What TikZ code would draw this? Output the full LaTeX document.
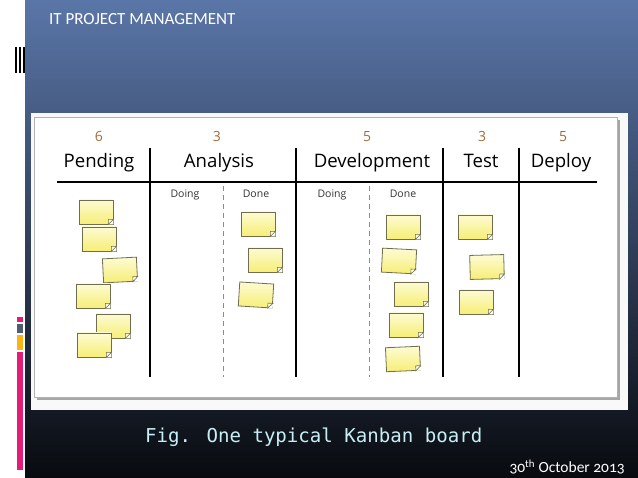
\documentclass[tikz,border=0pt]{standalone}
\usepackage{fontspec}
\setmainfont{Carlito}
\newfontfamily\handfont{Open Sans}
\newfontfamily\capfont{DejaVu Sans Mono}
\newfontfamily\datefont[Numbers=OldStyle]{Carlito}
\usetikzlibrary{calc}

\definecolor{slidetop}{RGB}{90,118,168}
\definecolor{slidemid}{RGB}{44,60,94}
\definecolor{slidebot}{RGB}{8,10,14}
\definecolor{notetop}{RGB}{247,238,118}
\definecolor{notebot}{RGB}{253,251,212}
\definecolor{noteedge}{RGB}{112,110,78}
\definecolor{countbrown}{RGB}{165,108,55}
\definecolor{capcyan}{RGB}{200,238,245}
\definecolor{barpink}{RGB}{228,28,120}
\definecolor{bargray}{RGB}{82,92,112}
\definecolor{barorange}{RGB}{250,180,20}

\begin{document}
\begin{tikzpicture}[x=1pt,y=-1pt]
	\tikzstyle{note}=[draw=noteedge, line width=0.8pt, top color=notebot, bottom color=notetop, minimum width=34pt, minimum height=24pt, inner sep=0pt]
	\tikzstyle{head}=[anchor=base, inner sep=0pt, font=\handfont\fontsize{18.6}{21}\selectfont]
	\tikzstyle{count}=[anchor=base, inner sep=0pt, text=countbrown, font=\handfont\fontsize{14}{16}\selectfont]
	\tikzstyle{sub}=[anchor=base, inner sep=0pt, text=black!80, font=\handfont\fontsize{10.5}{12}\selectfont]
	\tikzstyle{boardline}=[line width=1.8pt, black]
	\tikzstyle{splitline}=[line width=0.7pt, black!45, dash pattern=on 5pt off 4pt]
	% slide background
	\useasboundingbox (0,0) rectangle (638,478);
	\fill[white] (0,0) rectangle (638,478);
	\shade[top color=slidetop, middle color=slidemid, bottom color=slidebot] (25,0) rectangle (638,478);
	% left marks
	\fill[black] (15,47) rectangle (17,73);
	\fill[black] (19,47) rectangle (21,73);
	\fill[black] (23,47) rectangle (25,73);
	\fill[barpink] (17,317) rectangle (23,322);
	\fill[bargray] (17,324) rectangle (23,333);
	\fill[barorange] (17,335) rectangle (23,350);
	\fill[barpink] (17,352) rectangle (23,470);
	\node[anchor=base west, inner sep=0pt, text=white, font=\fontsize{17}{20}\selectfont] (title) at (49,25) {IT PROJECT MANAGEMENT};
	% board
	\fill[white!95!gray] (31,113) rectangle (628,410);
	\fill[black!35] (37,120) rectangle (620,400);
	\filldraw[fill=white, draw=black!30] (34,117) rectangle (617,397);
	\node[count] (cpend) at (99,142) {6};
	\node[count] (cana) at (217,142) {3};
	\node[count] (cdev) at (367,142) {5};
	\node[count] (ctest) at (482,142) {3};
	\node[count] (cdep) at (563,142) {5};
	\node[head] (hpend) at (99,168) {Pending};
	\node[head] (hana) at (219,168) {Analysis};
	\node[head] (hdev) at (372,168) {Development};
	\node[head] (htest) at (481,168) {Test};
	\node[head] (hdep) at (561,168) {Deploy};
	\node[sub] (sana1) at (185,198) {Doing};
	\node[sub] (sana2) at (256,198) {Done};
	\node[sub] (sdev1) at (332,198) {Doing};
	\node[sub] (sdev2) at (403,198) {Done};
	\draw[boardline] (57,182) -- (597,182);
	\draw[boardline] (150,148) -- (150,377);
	\draw[boardline] (296,148) -- (296,377);
	\draw[boardline] (443,148) -- (443,377);
	\draw[boardline] (519,148) -- (519,377);
	\draw[splitline] (223,186) -- (223,377);
	\draw[splitline] (369,186) -- (369,377);
	% notes
	\node[note] (p1) at (96,212) {};
	\node[note] (p2) at (99,239) {};
	\node[note, rotate=3] (p3) at (120,270) {};
	\node[note] (p4) at (93,296) {};
	\node[note] (p5) at (113,326) {};
	\node[note] (p6) at (94,345) {};
	\node[note] (a1) at (258,224) {};
	\node[note] (a2) at (265,260) {};
	\node[note, rotate=-3.5] (a3) at (256,295) {};
	\node[note] (d1) at (403,227) {};
	\node[note, rotate=-3] (d2) at (399,261) {};
	\node[note] (d3) at (411,294) {};
	\node[note] (d4) at (406,325) {};
	\node[note, rotate=2.5] (d5) at (403,359) {};
	\node[note] (t1) at (475,227) {};
	\node[note, rotate=1.5] (t2) at (487,267) {};
	\node[note] (t3) at (476,302) {};
	\foreach \n in {p1,p2,p3,p4,p5,p6,a1,a2,a3,d1,d2,d3,d4,d5,t1,t2,t3}{
		\coordinate (fa) at ($(\n.south east)!5pt!(\n.north east)$);
		\coordinate (fb) at ($(\n.south east)!5pt!(\n.south west)$);
		\fill[white] (fa) -- (\n.south east) -- (fb) -- cycle;
		\filldraw[fill=notebot!60!white, draw=noteedge, line width=0.6pt] (fa) -- ($(fa)+(fb)-(\n.south east)$) -- (fb) -- cycle;
	}
	% caption and date
	\node[anchor=base west, inner sep=0pt, text=capcyan, font=\capfont\fontsize{19.1}{22}\selectfont] (caption) at (145,443) {Fig. One typical Kanban board};
	\node[anchor=base east, inner sep=0pt, text=white, font=\datefont\fontsize{15.5}{18}\selectfont] (date) at (625,473) {30\textsuperscript{th} October 2013};
\end{tikzpicture}
\end{document}
